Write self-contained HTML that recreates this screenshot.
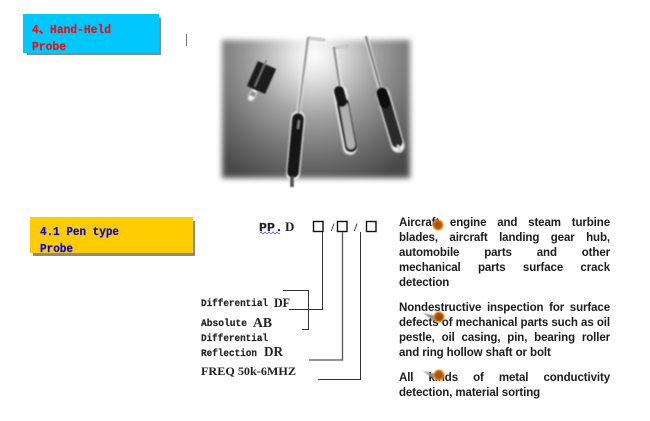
<!DOCTYPE html>
<html>
<head>
<meta charset="utf-8">
<style>
html,body{margin:0;padding:0;background:#fff;width:650px;height:421px;overflow:hidden}
#w{position:relative;width:650px;height:421px;overflow:hidden}
svg{position:absolute;left:0;top:0}
.l{position:absolute;left:399px;height:15px;font:bold 11.5px/15px "Liberation Sans",sans-serif;color:#1c1c1c;text-align:justify;text-align-last:justify;white-space:normal;letter-spacing:-0.1px}
</style>
</head>
<body>
<div id="w">
<svg width="650" height="421" viewBox="0 0 650 421">
<defs>
<filter id="b1" x="-10%" y="-10%" width="120%" height="120%"><feGaussianBlur stdDeviation="3"/></filter>
<filter id="b2" x="-30%" y="-30%" width="160%" height="160%"><feGaussianBlur stdDeviation="0.7"/></filter>
<filter id="b3" x="-50%" y="-50%" width="200%" height="200%"><feGaussianBlur stdDeviation="1"/></filter>
<radialGradient id="g" gradientUnits="userSpaceOnUse" cx="314" cy="55" r="140">
<stop offset="0" stop-color="#ffffff"/>
<stop offset="0.15" stop-color="#e6e6e6"/>
<stop offset="0.45" stop-color="#a0a0a0"/>
<stop offset="0.75" stop-color="#6c6c6c"/>
<stop offset="1" stop-color="#484848"/>
</radialGradient>
</defs>

<!-- blue box -->
<rect x="27" y="18" width="134" height="37" fill="#8a8a8a"/>
<rect x="23" y="14" width="136" height="39" fill="#00c8ff"/>
<text x="32" y="33" font-family="'Liberation Mono','Noto Sans CJK SC',monospace" font-weight="bold" font-size="12" fill="#f01010" stroke="#f01010" stroke-width="0.25" textLength="79" lengthAdjust="spacingAndGlyphs">4、Hand-Held</text>
<text x="32" y="50" font-family="'Liberation Mono',monospace" font-weight="bold" font-size="12" fill="#f01010" stroke="#f01010" stroke-width="0.25" textLength="34" lengthAdjust="spacingAndGlyphs">Probe</text>
<rect x="186" y="34" width="1" height="12" fill="#777"/>

<!-- photo -->
<rect x="222" y="40" width="188" height="138" fill="url(#g)" filter="url(#b1)"/>
<g filter="url(#b3)" fill="none" stroke="#f4f4f4" stroke-linecap="round">
<path d="M298 118 L293 174" stroke-width="13.5"/>
<path d="M340 92 L350 148" stroke-width="13.5"/>
<path d="M383 94 L398 146" stroke-width="13"/>
<path d="M254 92 L251 98" stroke-width="6"/>
<path d="M298 115 L307 40" stroke-width="3.5"/>
<path d="M366 37 L381 92" stroke-width="3.5"/>
<path d="M335 50 L341 90" stroke-width="3.5"/>
</g>
<g filter="url(#b2)" stroke-linecap="round" fill="none">
<path d="M309 38 L324 40" stroke="#8a8a8a" stroke-width="2.4"/>
<path d="M309 38 L324 40" stroke="#f4f4f4" stroke-width="1"/>
<path d="M308 38 L298 116" stroke="#9a9a9a" stroke-width="2.2"/>
<path d="M298 119 L293 172" stroke="#151515" stroke-width="11.5"/>
<path d="M292 176 L292 187" stroke="#4a4a4a" stroke-width="3.5" stroke-linecap="butt"/>
<path d="M299 121 L298 128" stroke="#888" stroke-width="2"/>
<path d="M334 48 L347 46" stroke="#999" stroke-width="2.4"/>
<path d="M334 48 L347 46" stroke="#eee" stroke-width="1"/>
<path d="M334 48 L340 88" stroke="#8c8c8c" stroke-width="2.2"/>
<path d="M343 104 L351 146" stroke="#1e1e1e" stroke-width="12"/>
<path d="M344 106 L351 145" stroke="#b0b0b0" stroke-width="8.5"/>
<path d="M339 91 L342 102" stroke="#181818" stroke-width="10"/>
<path d="M366 37 L381 90" stroke="#7c7c7c" stroke-width="2.2"/>
<path d="M384 98 L397 142" stroke="#2a2a2a" stroke-width="11"/>
<path d="M382 93 L385 103" stroke="#0f0f0f" stroke-width="11"/>
<path d="M398 146 L400 151" stroke="#ccc" stroke-width="2.5"/>
<path d="M267 65 L256 90" stroke="#1a1a1a" stroke-width="20" stroke-linecap="butt"/>
<path d="M266 61 L255 86" stroke="#777" stroke-width="1.6"/>
<path d="M254 92 L252 96" stroke="#8a8a8a" stroke-width="5" stroke-linecap="butt"/>
</g>

<!-- yellow box -->
<rect x="33" y="221" width="162" height="35" fill="#8a8a8a"/>
<rect x="30" y="217" width="163" height="36" fill="#ffcc00"/>
<text x="40" y="235" font-family="'Liberation Mono',monospace" font-weight="bold" font-size="12" fill="#0808e0" stroke="#0808e0" stroke-width="0.25" textLength="79" lengthAdjust="spacingAndGlyphs">4.1 Pen type</text>
<text x="40" y="252" font-family="'Liberation Mono',monospace" font-weight="bold" font-size="12" fill="#0808e0" stroke="#0808e0" stroke-width="0.25" textLength="33" lengthAdjust="spacingAndGlyphs">Probe</text>

<!-- code -->
<text x="259" y="231" font-family="'Liberation Mono',monospace" font-weight="bold" font-size="12" fill="#222" stroke="#222" stroke-width="0.2" textLength="24" lengthAdjust="spacingAndGlyphs">PP.</text>
<text x="285" y="231" font-family="'Liberation Serif',serif" font-weight="bold" font-size="13" fill="#222">D</text>
<path d="M260 233 q1 -2 2 0 t2 0 t2 0 t2 0 t2 0 t2 0 t2 0 t2 0 t2 0 t2 0" fill="none" stroke="#3a5fd0" stroke-width="0.8"/>
<g fill="#fff" stroke="#111" stroke-width="1.4">
<rect x="313.5" y="221.5" width="9.5" height="10"/>
<rect x="337.5" y="221.5" width="9.5" height="10"/>
<rect x="366.5" y="221.5" width="9.5" height="10"/>
</g>
<text x="331" y="231" font-family="'Liberation Serif',serif" font-weight="bold" font-size="12" fill="#111">/</text>
<text x="354" y="231" font-family="'Liberation Serif',serif" font-weight="bold" font-size="12" fill="#111">/</text>

<g fill="none" stroke="#333" stroke-width="1">
<path d="M322.5 232 V309.5 H289"/>
<path d="M283 290.5 H308.5 V329.5 H302"/>
<path d="M342.5 232 V360 H309" stroke="#555" stroke-width="1.3"/>
<path d="M360.5 232 V379.5 H318"/>
</g>

<g font-family="'Liberation Mono',monospace" font-weight="bold" font-size="10" fill="#222" stroke="#222" stroke-width="0.2">
<text x="201" y="306" textLength="67" lengthAdjust="spacingAndGlyphs">Differential</text>
<text x="201" y="326" textLength="46" lengthAdjust="spacingAndGlyphs">Absolute</text>
<text x="201" y="341" textLength="67" lengthAdjust="spacingAndGlyphs">Differential</text>
<text x="201" y="356" textLength="56" lengthAdjust="spacingAndGlyphs">Reflection</text>
</g>
<g font-family="'Liberation Serif',serif" font-weight="bold" fill="#222">
<text x="274" y="307" font-size="13" textLength="16" lengthAdjust="spacingAndGlyphs">DF</text>
<text x="253" y="327" font-size="14" textLength="19" lengthAdjust="spacingAndGlyphs">AB</text>
<text x="264" y="356" font-size="14" textLength="19" lengthAdjust="spacingAndGlyphs">DR</text>
<text x="201" y="375" font-size="12" textLength="95" lengthAdjust="spacingAndGlyphs">FREQ 50k-6MHZ</text>
</g>
</svg>

<div class="l" style="top:216px;width:211px">Aircraft engine and steam turbine</div>
<div class="l" style="top:231px;width:211px">blades, aircraft landing gear hub,</div>
<div class="l" style="top:246px;width:211px">automobile parts and other</div>
<div class="l" style="top:261px;width:211px">mechanical parts surface crack</div>
<div class="l" style="top:276px;width:211px;text-align-last:left">detection</div>
<div class="l" style="top:301px;width:211px">Nondestructive inspection for surface</div>
<div class="l" style="top:316px;width:211px">defects of mechanical parts such as oil</div>
<div class="l" style="top:331px;width:211px">pestle, oil casing, pin, bearing roller</div>
<div class="l" style="top:346px;width:175px;text-align-last:left">and ring hollow shaft or bolt</div>
<div class="l" style="top:371px;width:211px">All kinds of metal conductivity</div>
<div class="l" style="top:386px;width:175px;text-align-last:left">detection, material sorting</div>

<svg width="650" height="421" viewBox="0 0 650 421">
<g filter="url(#b2)">
<path d="M423 313 L436 316 L434 321 Z" fill="#8a8a8a"/>
<path d="M423 371 L436 374 L434 379 Z" fill="#8a8a8a"/>
<circle cx="438" cy="225" r="5" fill="#b8500a" stroke="#e8a000" stroke-width="1"/>
<circle cx="439" cy="317" r="5" fill="#a8450c" stroke="#e8a000" stroke-width="1"/>
<circle cx="439" cy="375" r="5" fill="#b8500a" stroke="#e8a000" stroke-width="1"/>
</g>
</svg>
</div>
</body>
</html>
